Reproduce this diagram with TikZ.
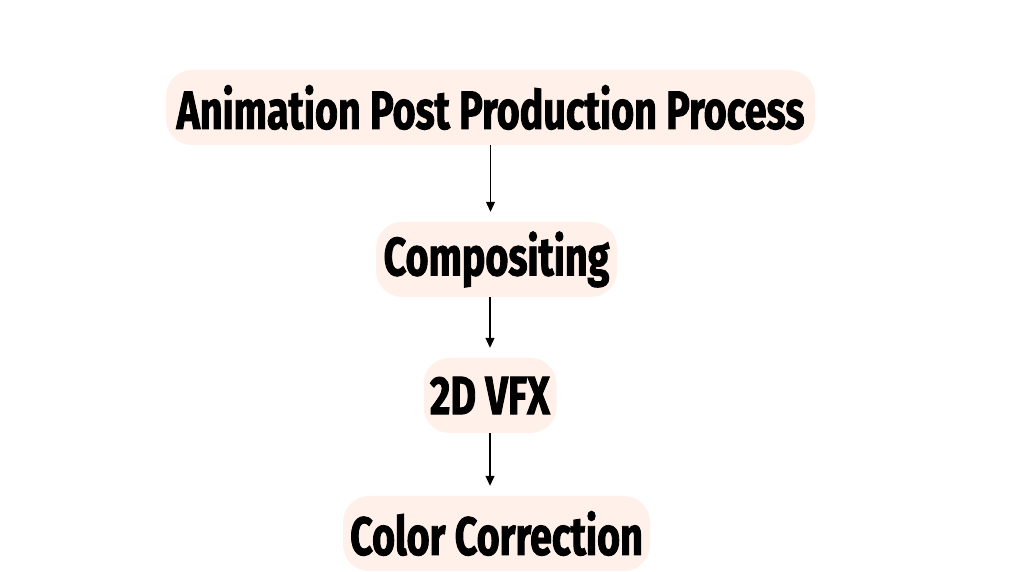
\documentclass[tikz,border=0pt]{standalone}
\usepackage{fontspec}
\newfontfamily\phasefont[FakeStretch=0.73, FakeBold=1.6]{Fira Sans}
\usetikzlibrary{arrows.meta}
\definecolor{peach}{HTML}{FFF0EA}
\tikzset{
	phase/.style={fill=peach, rounded corners=26pt, minimum height=75pt, inner xsep=4pt, inner ysep=0pt, font=\phasefont\bfseries\fontsize{54}{54}\selectfont},
	flow/.style={line width=1.1pt, -{Triangle[length=10pt,width=9pt]}, shorten >=10pt}
}
\begin{document}
\begin{tikzpicture}[x=1pt, y=1pt]
			%%%%% START %%%%%
			
			\useasboundingbox (0, 0) rectangle (1024, 572);
			
			\node[phase, minimum width=649pt] (title) at (490.5, 464.5) {Animation Post Production Process};
			\node[phase, minimum width=241pt] (comp) at (496.5, 312.5) {Compositing};
			\node[phase, minimum width=133pt] (vfx) at (490, 176.5) {2D VFX};
			\node[phase, minimum width=307pt] (color) at (496.5, 38.5) {Color Correction};
			
			\draw[flow] (title.south) -- (title.south |- comp.north);
			\draw[flow] (vfx.north |- comp.south) -- (vfx.north);
			\draw[flow] (vfx.south) -- (vfx.south |- color.north);
			
			%%%%% END %%%%%
		\end{tikzpicture}
\end{document}
